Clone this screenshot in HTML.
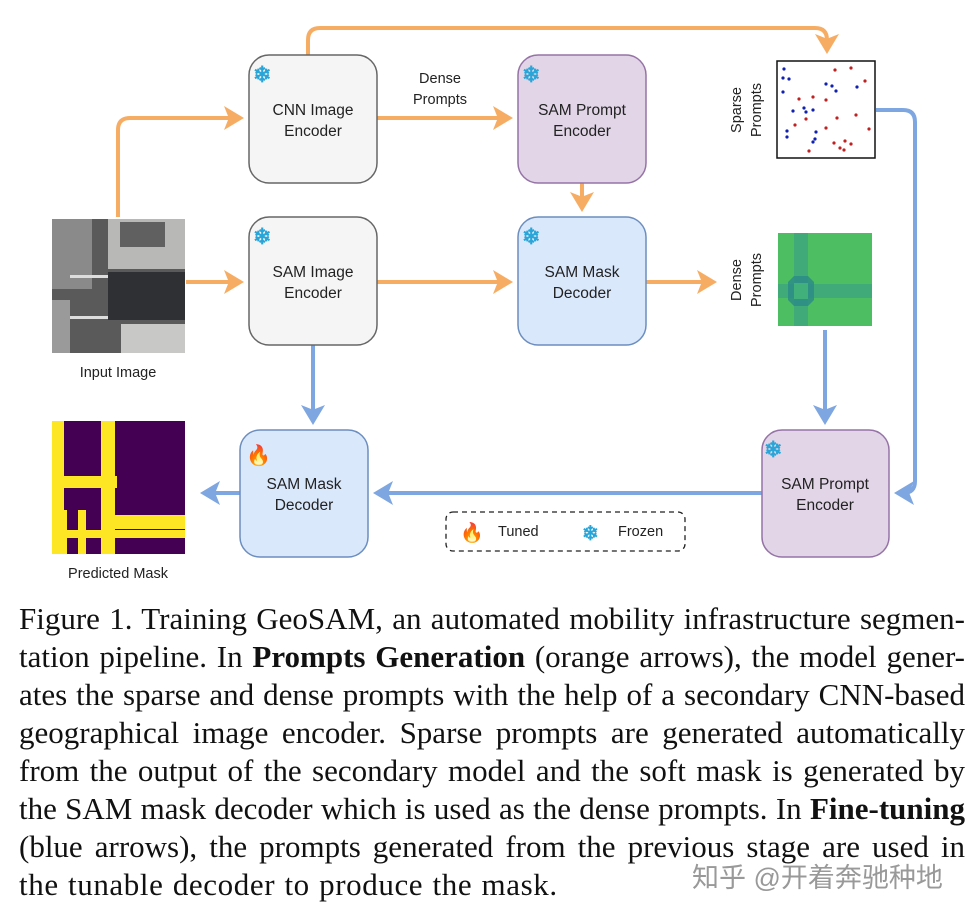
<!DOCTYPE html>
<html><head><meta charset="utf-8"><style>
body{margin:0;background:#fff;width:975px;height:913px;overflow:hidden;position:relative;font-family:"Liberation Sans",sans-serif}
.cap{position:absolute;left:19px;top:600px;width:946px;font-family:"Liberation Serif",serif;font-size:31px;line-height:38px;color:#111;word-spacing:-1px}
.cap div{text-align:justify;text-align-last:justify;white-space:nowrap;height:38px}
.cap div.l{text-align-last:left;letter-spacing:0.6px;word-spacing:1px}
.wm{position:absolute;left:692px;top:856px;font-family:"Liberation Sans","Noto Sans CJK SC",sans-serif;font-size:27px;color:#999}
</style></head><body>
<svg width="975" height="600" style="position:absolute;left:0;top:0" font-family="Liberation Sans, sans-serif">
<defs>
<marker id="ao" markerWidth="6" markerHeight="6" refX="4" refY="3" orient="auto" markerUnits="strokeWidth"><path d="M0,0 L5,3 L0,6 L1.2,3z" fill="#f6ad63"/></marker>
<marker id="ab" markerWidth="6" markerHeight="6" refX="4" refY="3" orient="auto" markerUnits="strokeWidth"><path d="M0,0 L5,3 L0,6 L1.2,3z" fill="#7ea6e0"/></marker>
</defs>
<g fill="none" stroke="#f6ad63" stroke-width="4">
<path d="M118,217 V130 Q118,118 130,118 H240" marker-end="url(#ao)"/>
<path d="M377,118 H509" marker-end="url(#ao)"/>
<path d="M308,55 V40 Q308,28 320,28 H815 Q827,28 827,40 V50" marker-end="url(#ao)"/>
<path d="M582,183 V208" marker-end="url(#ao)"/>
<path d="M186,282 H240" marker-end="url(#ao)"/>
<path d="M377,282 H509" marker-end="url(#ao)"/>
<path d="M646,282 H713" marker-end="url(#ao)"/>
</g>
<g fill="none" stroke="#7ea6e0" stroke-width="4">
<path d="M313,345 V421" marker-end="url(#ab)"/>
<path d="M876,110 H903 Q915,110 915,122 V481 Q915,493 903,493 H898" marker-end="url(#ab)"/>
<path d="M825,330 V421" marker-end="url(#ab)"/>
<path d="M762,493 H377" marker-end="url(#ab)"/>
<path d="M240,493 H204" marker-end="url(#ab)"/>
</g>
<g stroke-width="1.5">
<rect x="249" y="55" width="128" height="128" rx="20" fill="#f5f5f5" stroke="#666"/>
<rect x="518" y="55" width="128" height="128" rx="20" fill="#e1d5e7" stroke="#9673a6"/>
<rect x="249" y="217" width="128" height="128" rx="20" fill="#f5f5f5" stroke="#666"/>
<rect x="518" y="217" width="128" height="128" rx="20" fill="#dae8fc" stroke="#6c8ebf"/>
<rect x="240" y="430" width="128" height="127" rx="20" fill="#dae8fc" stroke="#6c8ebf"/>
<rect x="762" y="430" width="127" height="127" rx="20" fill="#e1d5e7" stroke="#9673a6"/>
</g>
<g font-size="15.5" fill="#222" text-anchor="middle">
<text x="313" y="115">CNN Image</text><text x="313" y="136">Encoder</text>
<text x="582" y="115">SAM Prompt</text><text x="582" y="136">Encoder</text>
<text x="313" y="277">SAM Image</text><text x="313" y="298">Encoder</text>
<text x="582" y="277">SAM Mask</text><text x="582" y="298">Decoder</text>
<text x="304" y="489">SAM Mask</text><text x="304" y="510">Decoder</text>
<text x="825" y="489">SAM Prompt</text><text x="825" y="510">Encoder</text>
<text x="440" y="83" font-size="14.5">Dense</text><text x="440" y="104" font-size="14.5">Prompts</text>
<text x="118" y="377" font-size="14.5">Input Image</text>
<text x="118" y="578" font-size="14.5">Predicted Mask</text>
</g>
<g font-size="22" fill="#2aa5d8" font-weight="bold">
<text x="253" y="82">❄</text><text x="522" y="82">❄</text><text x="253" y="244">❄</text><text x="522" y="244">❄</text><text x="764" y="457">❄</text>
</g>
<text x="246" y="462" font-size="20" fill="#f05a1a">🔥</text>
<g font-size="14.5" fill="#222" text-anchor="middle">
<text transform="translate(741,110) rotate(-90)">Sparse</text><text transform="translate(761,110) rotate(-90)">Prompts</text>
<text transform="translate(741,280) rotate(-90)">Dense</text><text transform="translate(761,280) rotate(-90)">Prompts</text>
</g>
<rect x="777" y="61" width="98" height="97" fill="#fff" stroke="#111" stroke-width="1.5"/>
<g fill="#1020b0"><circle cx="784" cy="69" r="1.6"/><circle cx="783" cy="78" r="1.6"/><circle cx="789" cy="79" r="1.6"/><circle cx="783" cy="92" r="1.6"/><circle cx="826" cy="84" r="1.6"/><circle cx="832" cy="86" r="1.6"/><circle cx="836" cy="91" r="1.6"/><circle cx="857" cy="87" r="1.6"/><circle cx="804" cy="108" r="1.6"/><circle cx="806" cy="112" r="1.6"/><circle cx="793" cy="111" r="1.6"/><circle cx="813" cy="110" r="1.6"/><circle cx="787" cy="131" r="1.6"/><circle cx="787" cy="137" r="1.6"/><circle cx="816" cy="132" r="1.6"/><circle cx="815" cy="139" r="1.6"/><circle cx="813" cy="142" r="1.6"/></g>
<g fill="#c02020"><circle cx="835" cy="70" r="1.6"/><circle cx="851" cy="68" r="1.6"/><circle cx="865" cy="81" r="1.6"/><circle cx="799" cy="99" r="1.6"/><circle cx="813" cy="97" r="1.6"/><circle cx="826" cy="100" r="1.6"/><circle cx="806" cy="119" r="1.6"/><circle cx="837" cy="118" r="1.6"/><circle cx="856" cy="115" r="1.6"/><circle cx="795" cy="125" r="1.6"/><circle cx="826" cy="128" r="1.6"/><circle cx="869" cy="129" r="1.6"/><circle cx="834" cy="143" r="1.6"/><circle cx="845" cy="141" r="1.6"/><circle cx="851" cy="144" r="1.6"/><circle cx="840" cy="148" r="1.6"/><circle cx="844" cy="150" r="1.6"/><circle cx="809" cy="151" r="1.6"/></g>
<rect x="778" y="233" width="94" height="93" fill="#4dbf62"/>
<rect x="794" y="233" width="14" height="93" fill="#3aa282" opacity="0.7"/>
<rect x="778" y="284" width="94" height="14" fill="#3aa282" opacity="0.7"/>
<path d="M788,282 L794,276 H808 L814,282 V300 L808,306 H794 L788,300z" fill="#2a8a8a" opacity="0.8"/>
<rect x="794" y="283" width="14" height="16" fill="#42b07a"/>
<rect x="52" y="219" width="133" height="134" fill="#5a5a5a"/>
<rect x="52" y="219" width="40" height="70" fill="#8a8a8a"/>
<rect x="108" y="219" width="77" height="50" fill="#b8b8b6"/>
<rect x="120" y="222" width="45" height="25" fill="#606060"/>
<rect x="121" y="324" width="64" height="29" fill="#c8c8c6"/>
<rect x="52" y="300" width="18" height="53" fill="#9a9a9a"/>
<rect x="70" y="275" width="45" height="3" fill="#ddd"/><rect x="70" y="316" width="45" height="3" fill="#ddd"/>
<rect x="108" y="272" width="77" height="48" fill="#2e3033"/>
<rect x="52" y="421" width="133" height="133" fill="#440154"/>
<g fill="#fde725"><rect x="52" y="421" width="12" height="133"/><rect x="101" y="421" width="14" height="133"/><rect x="52" y="476" width="65" height="12"/><rect x="101" y="515" width="84" height="14"/><rect x="52" y="510" width="15" height="44"/><rect x="78" y="510" width="8" height="44"/><rect x="64" y="530" width="121" height="8"/></g>
<rect x="446" y="512" width="239" height="39" rx="7" fill="#fff" stroke="#222" stroke-width="1.3" stroke-dasharray="5,4"/>
<text x="460" y="539" font-size="19">🔥</text>
<text x="498" y="536" font-size="14.5" fill="#222">Tuned</text>
<text x="582" y="540" font-size="20" fill="#2aa5d8" font-weight="bold">❄</text>
<text x="618" y="536" font-size="14.5" fill="#222">Frozen</text>
</svg>
<div class="cap">
<div>Figure 1. Training GeoSAM, an automated mobility infrastructure segmen-</div>
<div>tation pipeline. In <b>Prompts Generation</b> (orange arrows), the model gener-</div>
<div>ates the sparse and dense prompts with the help of a secondary CNN-based</div>
<div>geographical image encoder. Sparse prompts are generated automatically</div>
<div>from the output of the secondary model and the soft mask is generated by</div>
<div>the SAM mask decoder which is used as the dense prompts. In <b>Fine-tuning</b></div>
<div>(blue arrows), the prompts generated from the previous stage are used in</div>
<div class="l">the tunable decoder to produce the mask.</div>
</div>
<div class="wm">知乎 @开着奔驰种地</div>
</body></html>
